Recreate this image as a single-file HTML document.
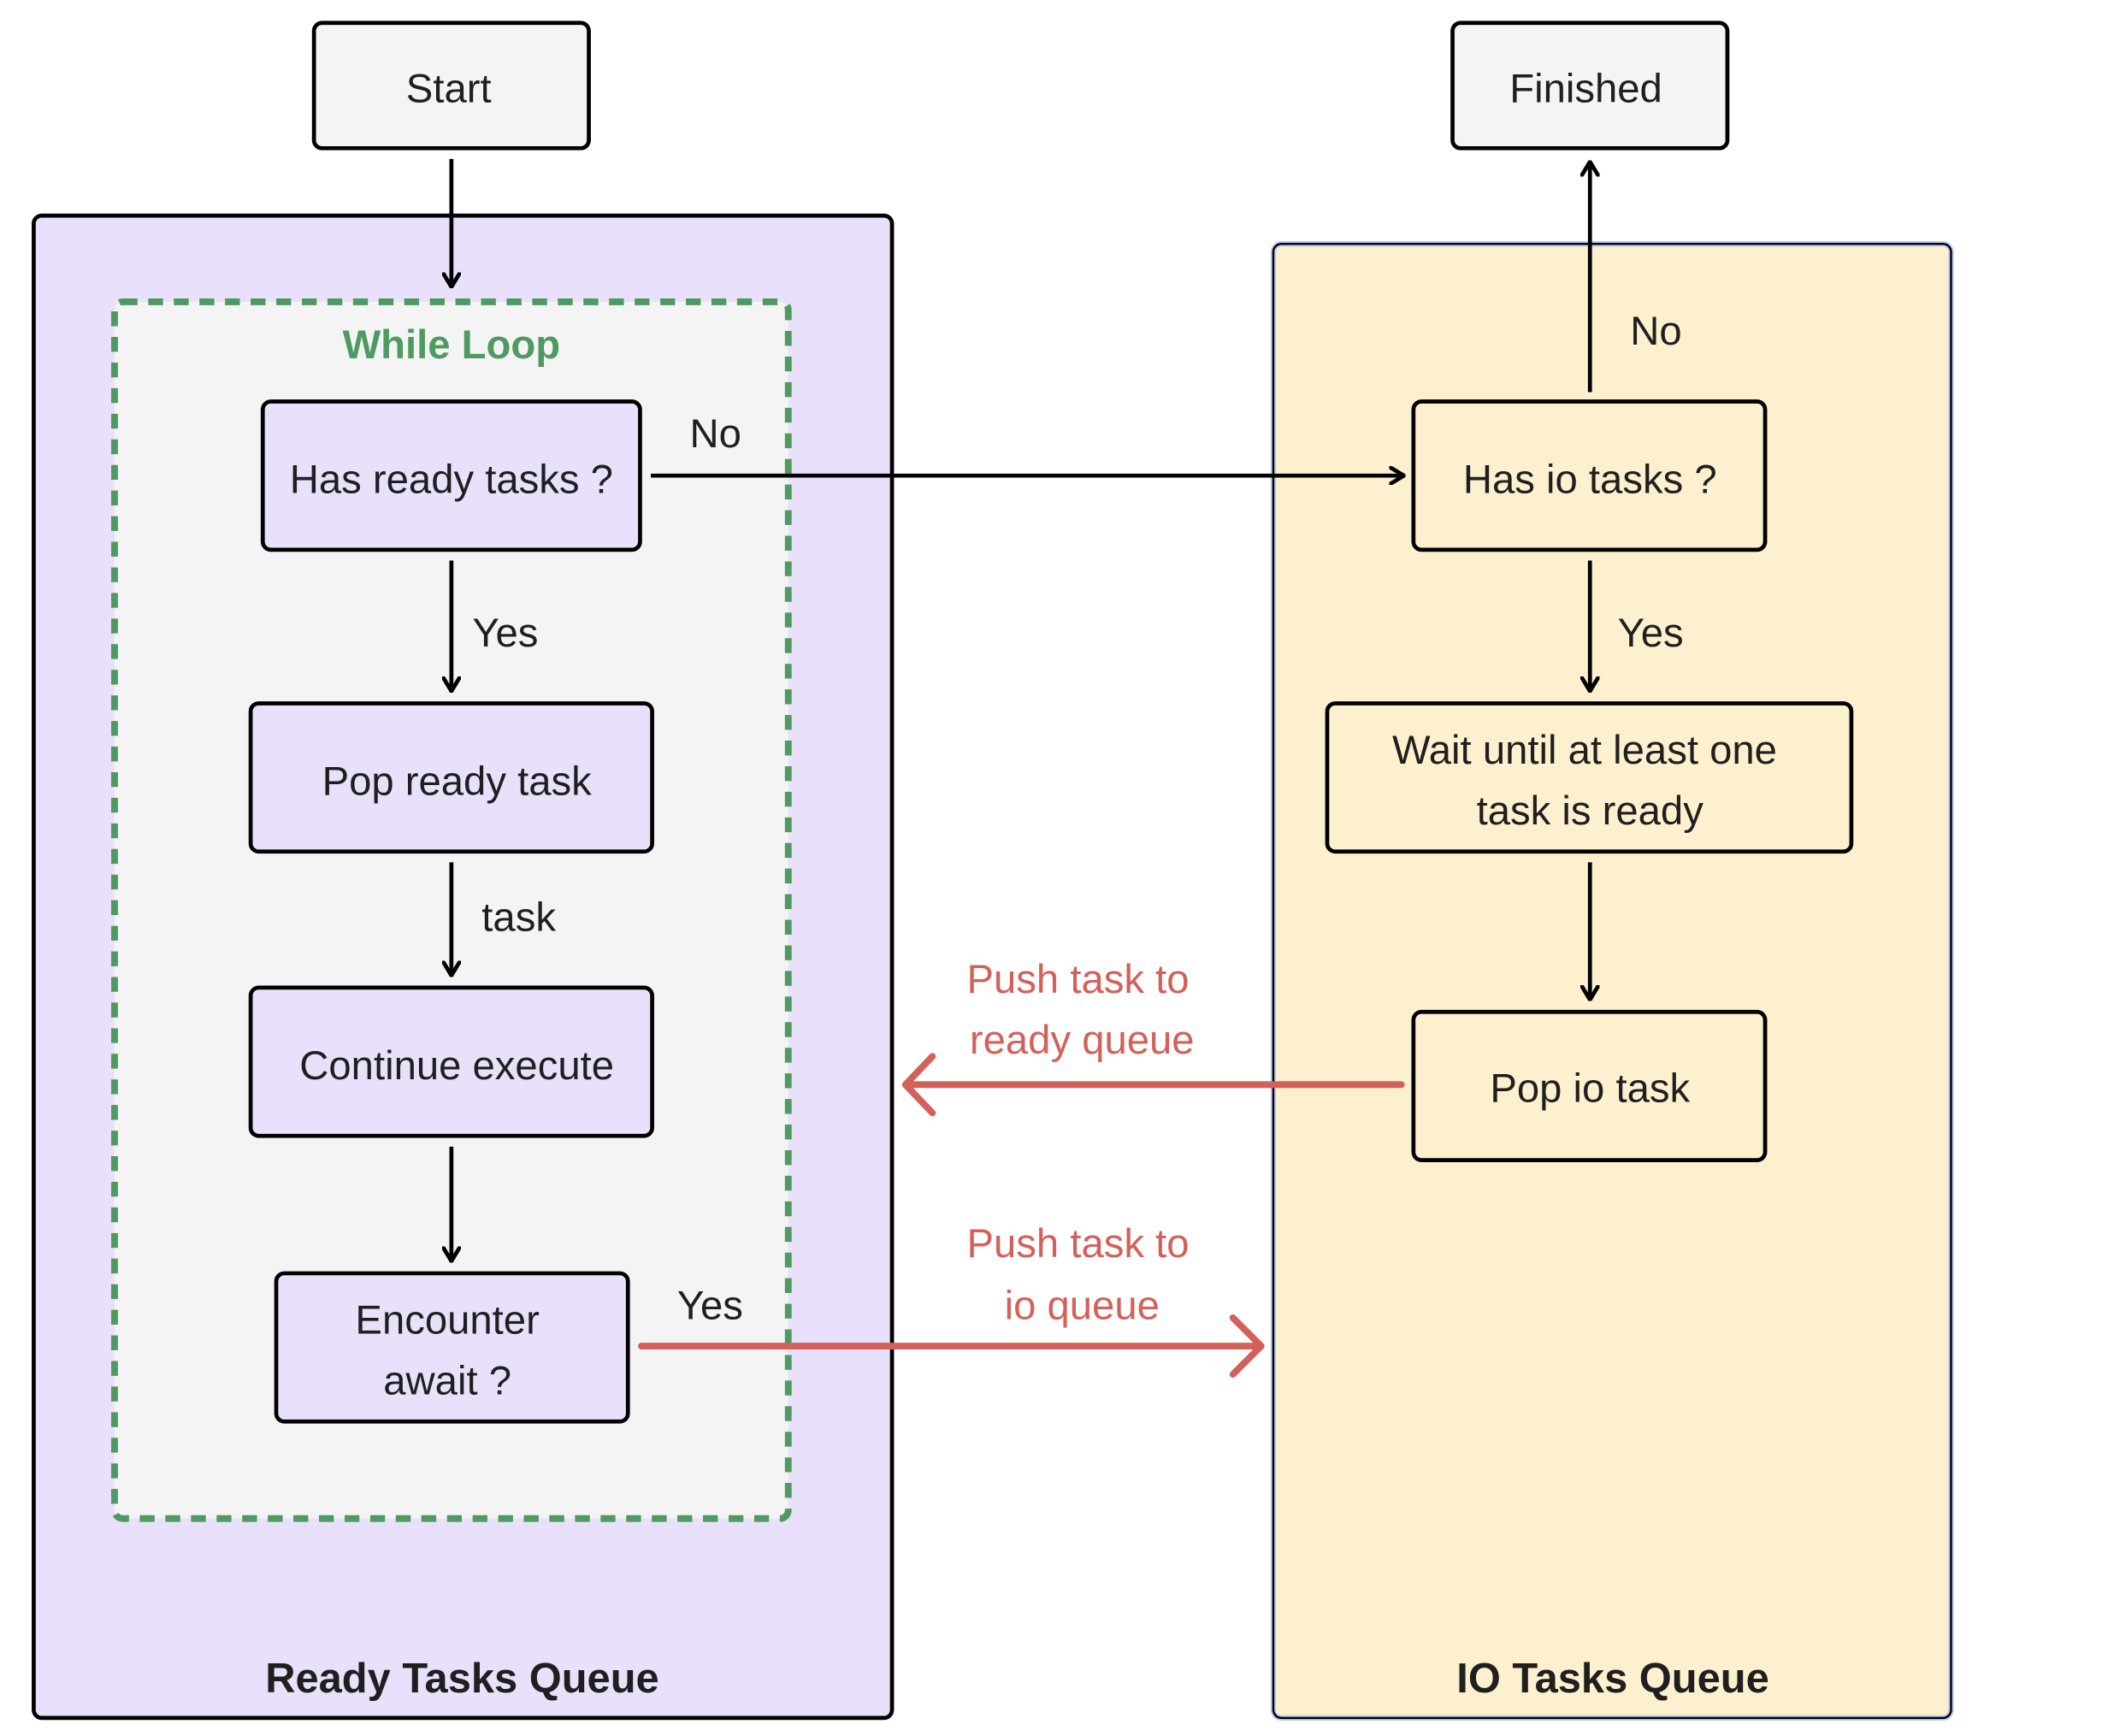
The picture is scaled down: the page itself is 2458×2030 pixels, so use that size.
<!DOCTYPE html>
<html><head><meta charset="utf-8"><style>
html,body{margin:0;padding:0;background:#fff;}
svg{display:block;}
text{font-family:"Liberation Sans",sans-serif;fill:#1f1f1f;}
</style></head><body>
<svg width="2458" height="2030" viewBox="0 0 1560 1288.4" xmlns="http://www.w3.org/2000/svg">
<defs>
<marker id="ab" markerWidth="12" markerHeight="14" refX="11" refY="7" orient="auto" markerUnits="userSpaceOnUse">
<path d="M1,1 L11,7 L1,13" fill="none" stroke="#000" stroke-width="3" stroke-linecap="round"/>
</marker>
</defs>
<rect x="25" y="160" width="637" height="1115" rx="6" fill="#e9e1fb" stroke="#000" stroke-width="3"/>
<rect x="945" y="181" width="503" height="1094" rx="6" fill="#fdf0cf" stroke="#b9c7f0" stroke-width="4"/>
<rect x="945" y="181" width="503" height="1094" rx="6" fill="none" stroke="#000" stroke-width="1.5"/>
<rect x="85" y="224" width="500" height="903" rx="6" fill="#f4f4f4" stroke="#4e9a61" stroke-width="5" stroke-dasharray="11 8"/>
<text x="335" y="256" font-size="30" font-weight="bold" text-anchor="middle" dominant-baseline="central" style="fill:#4e9a61">While Loop</text>
<text x="343" y="1246" font-size="31" font-weight="bold" text-anchor="middle" dominant-baseline="central">Ready Tasks Queue</text>
<text x="1197" y="1246" font-size="31" font-weight="bold" text-anchor="middle" dominant-baseline="central">IO Tasks Queue</text>
<g stroke="#000" stroke-width="3">
<rect x="233" y="17" width="204" height="93" rx="6" fill="#f4f4f4"/>
<rect x="1078" y="17" width="204" height="93" rx="6" fill="#f4f4f4"/>
<rect x="195" y="298" width="280" height="110" rx="6" fill="#e9e1fb"/>
<rect x="186" y="522" width="298" height="110" rx="6" fill="#e9e1fb"/>
<rect x="186" y="733" width="298" height="110" rx="6" fill="#e9e1fb"/>
<rect x="205" y="945" width="261" height="110" rx="6" fill="#e9e1fb"/>
<rect x="1049" y="298" width="261" height="110" rx="6" fill="#fdf0cf"/>
<rect x="985" y="522" width="389" height="110" rx="6" fill="#fdf0cf"/>
<rect x="1049" y="751" width="261" height="110" rx="6" fill="#fdf0cf"/>
</g>
<g font-size="30" text-anchor="middle" dominant-baseline="central">
<text x="333" y="66">Start</text>
<text x="1177" y="66">Finished</text>
<text x="335" y="356">Has ready tasks ?</text>
<text x="339" y="580">Pop ready task</text>
<text x="339" y="791">Continue execute</text>
<text x="332" y="980">Encounter</text>
<text x="332" y="1025">await ?</text>
<text x="1180" y="356">Has io tasks ?</text>
<text x="1176" y="557">Wait until at least one</text>
<text x="1180" y="602">task is ready</text>
<text x="1180" y="808">Pop io task</text>
<text x="375" y="470">Yes</text>
<text x="385" y="681">task</text>
<text x="531" y="322">No</text>
<text x="1229" y="246">No</text>
<text x="1225" y="470">Yes</text>
<text x="527" y="969">Yes</text>
</g>
<g font-size="30" text-anchor="middle" dominant-baseline="central">
<text x="800" y="727" style="fill:#d4605a">Push task to</text>
<text x="803" y="772" style="fill:#d4605a">ready queue</text>
<text x="800" y="923" style="fill:#d4605a">Push task to</text>
<text x="803" y="969" style="fill:#d4605a">io queue</text>
</g>
<g stroke="#000" stroke-width="3" fill="none" marker-end="url(#ab)">
<line x1="335" y1="118" x2="335" y2="213"/>
<line x1="335" y1="416" x2="335" y2="513"/>
<line x1="335" y1="640" x2="335" y2="724"/>
<line x1="335" y1="851" x2="335" y2="936"/>
<line x1="483" y1="353" x2="1042" y2="353"/>
<line x1="1180" y1="291" x2="1180" y2="120"/>
<line x1="1180" y1="416" x2="1180" y2="513"/>
<line x1="1180" y1="640" x2="1180" y2="742"/>
</g>
<g stroke="#d4605a" stroke-width="5" fill="none" stroke-linecap="round" stroke-linejoin="round">
<line x1="1040" y1="805" x2="674" y2="805"/>
<path d="M692,784 L672,805 L692,826"/>
<line x1="476" y1="999" x2="934" y2="999"/>
<path d="M915,978 L936,999 L915,1020"/>
</g>
</svg>
</body></html>
